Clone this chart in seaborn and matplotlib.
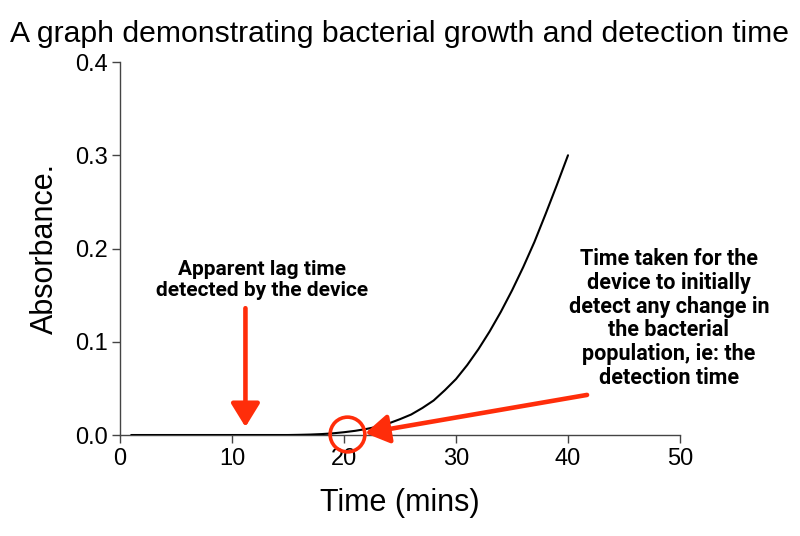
import matplotlib
matplotlib.use("Agg")
import seaborn as sns
import pandas as pd
from matplotlib import pyplot as plt


# Absorbance readings
time_mins = [1, 5, 10, 15, 16, 17, 18, 19, 20, 21, 22, 23, 24, 25, 26, 27, 28, 29, 30,
             31, 32, 33, 34, 35, 36, 37, 38, 39, 40]
absorbance = [0.0, 0.0, 0.0, 0.0, 0.0002, 0.0005, 0.001, 0.0018, 0.003, 0.0045, 0.0065,
              0.009, 0.0125, 0.017, 0.022, 0.029, 0.037, 0.048, 0.060,
              0.075, 0.092, 0.111, 0.132, 0.155, 0.180, 0.207, 0.237, 0.268, 0.300]

x_ticks = [0, 10, 20, 30, 40, 50]
y_ticks = [0.0, 0.1, 0.2, 0.3, 0.4]

# annotation anchors (data units)
lag_time = 11.2
lag_arrow_start = 0.136
lag_arrow_end = 0.0086
detection_time = 20.3
detection_arrow_from = (41.7, 0.043)
detection_arrow_to = (21.9, 0.002)

lag_text = "Apparent lag time\ndetected by the device"
detect_text = ("Time taken for the\ndevice to initially\ndetect any change in\n"
               "the bacterial\npopulation, ie: the\ndetection time")

red = "#FF2D0A"

sns.set_style("ticks")
plt.rcParams['font.family'] = ['Liberation Sans', 'DejaVu Sans']
plt.rcParams['text.color'] = 'black'
plt.rcParams['axes.labelcolor'] = 'black'
plt.rcParams['xtick.color'] = 'black'
plt.rcParams['ytick.color'] = 'black'

df = pd.DataFrame({"Time": time_mins, "Absorbance": absorbance})

fig = plt.figure(figsize=(8, 5.36), dpi=100)
ax = fig.add_axes([0.15, 0.1884, 0.70, 0.6959])

sns.lineplot(data=df, x="Time", y="Absorbance", color="black", linewidth=1.5, ax=ax)

ax.set_xlim(0, 50)
ax.set_ylim(0, 0.4)
ax.set_xticks(x_ticks)
ax.set_yticks(y_ticks)
ax.set_yticklabels([f"{v:.1f}" for v in y_ticks])
ax.tick_params(direction="out", length=6, width=1, color="#444444", labelsize=17, pad=3)
for side in ["top", "right"]:
    ax.spines[side].set_visible(False)
for side in ["left", "bottom"]:
    ax.spines[side].set_color("#444444")
    ax.spines[side].set_linewidth(1)
    ax.spines[side].set_zorder(0)

ax.set_xlabel("Time (mins)", fontsize=22, labelpad=13)
ax.set_ylabel("Absorbance.", fontsize=22, labelpad=11)

fig.text(0.5, 0.937, "A graph demonstrating bacterial growth and detection time",
         ha="center", va="center", fontsize=21.7)

bold = dict(family=["Roboto", "DejaVu Sans"], fontweight="bold",
            ha="center", va="center", linespacing=1.1)
ax.text(12.7, 0.166, lag_text, fontsize=15, **bold)
ax.text(49.0, 0.125, detect_text, fontsize=15.5, **bold)

arrow = dict(arrowstyle="-|>,head_length=0.65,head_width=0.4", color=red, lw=3.3,
             mutation_scale=22, shrinkA=0, shrinkB=0)
ax.annotate("", xy=(lag_time, lag_arrow_end), xytext=(lag_time, lag_arrow_start),
            arrowprops=arrow)
ax.annotate("", xy=detection_arrow_to, xytext=detection_arrow_from, arrowprops=arrow)

ax.plot([detection_time], [0.0015], marker="o", markersize=25, markerfacecolor="none",
        markeredgecolor=red, markeredgewidth=2.6, clip_on=False, zorder=5)

fig.savefig("out.png", dpi=100)
